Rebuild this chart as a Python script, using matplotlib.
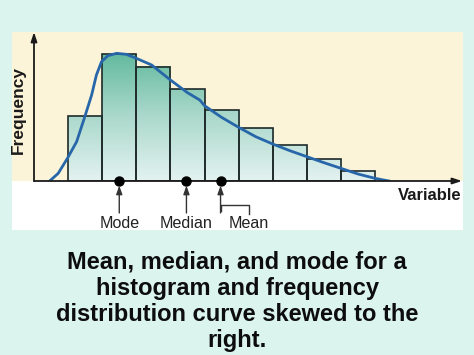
import numpy as np
import matplotlib
matplotlib.use("Agg")
import matplotlib.pyplot as plt
from matplotlib.patches import Rectangle
from matplotlib.colors import LinearSegmentedColormap, Normalize

plt.rcParams['font.family'] = ['Liberation Sans', 'DejaVu Sans']

# ---- data ----
bin_lefts = [0, 1, 2, 3, 4, 5, 6, 7, 8]
bar_heights = [19.5, 38.1, 34.3, 27.5, 21.3, 15.8, 10.7, 6.6, 2.9]

curve_x = [-0.54, -0.29, -0.02, 0.25, 0.49, 0.69, 0.83, 0.98, 1.17, 1.42, 1.71,
           2.0, 2.45, 3.0, 3.5, 3.86, 4.0, 4.5, 5.0, 5.5, 6.0, 6.5, 7.0, 7.5,
           8.0, 8.5, 9.0, 9.3, 9.42]
curve_y = [0.0, 2.3, 6.8, 11.8, 19.3, 25.8, 31.8, 35.8, 37.6, 38.3, 38.0,
           36.8, 34.8, 30.3, 26.5, 24.3, 22.6, 19.1, 16.1, 13.3, 11.1, 9.1, 7.3, 5.5,
           3.8, 2.1, 0.8, 0.2, 0.0]

stat_names = ["Mode", "Median", "Mean"]
stat_x = [1.5, 3.47, 4.47]

x_label = "Variable"
y_label = "Frequency"
title_lines = ["Mean, median, and mode for a",
               "histogram and frequency",
               "distribution curve skewed to the",
               "right."]

# ---- figure ----
W, H = 474, 355
fig = plt.figure(figsize=(W / 100, H / 100), dpi=100)
fig.patch.set_facecolor('#dbf4ee')

def px(x, y):
    return (x / W, (H - y) / H)

# panel backgrounds
fig.patches.append(Rectangle(px(12, 181), (463 - 12) / W, (181 - 32) / H,
                             transform=fig.transFigure, facecolor='#fbf4d8',
                             edgecolor='none', zorder=-2))
fig.patches.append(Rectangle(px(12, 230), (463 - 12) / W, (230 - 181) / H,
                             transform=fig.transFigure, facecolor='white',
                             edgecolor='none', zorder=-2))

ax = fig.add_axes([34 / W, (H - 181) / H, (462 - 34) / W, (181 - 32) / H])
ax.set_zorder(1)
ax.set_facecolor('none')
for s in ax.spines.values():
    s.set_visible(False)
ax.set_xticks([])
ax.set_yticks([])

# gradient bars
cmap = LinearSegmentedColormap.from_list('tealgrad', ['#e3f2f0', '#a9d8ca', '#5db79a'])
norm = Normalize(vmin=0, vmax=40)
for left, h in zip(bin_lefts, bar_heights):
    grad = np.linspace(0, h, 200).reshape(-1, 1)
    ax.imshow(grad, extent=(left, left + 1, 0, h), origin='lower', cmap=cmap,
              norm=norm, aspect='auto', zorder=1, interpolation='bilinear')
centers = [e + 0.5 for e in bin_lefts]
ax.bar(centers, bar_heights, width=1.0, facecolor='none', edgecolor='#1e2a29',
       linewidth=1.2, zorder=2)
ax.set_xlim(-1, 11.55)
ax.set_ylim(0, 44.7)

# curve
ax.plot(curve_x, curve_y, color='#2766a9', lw=2.0, zorder=3,
        solid_capstyle='round', solid_joinstyle='round')

# axes arrows
axis_col = '#1a1a1a'
ax.annotate('', xy=(1.0, 0), xytext=(0, 0), xycoords='axes fraction',
            arrowprops=dict(arrowstyle='-|>,head_length=0.55,head_width=0.18',
                            color=axis_col, lw=1.3, shrinkA=0, shrinkB=0),
            zorder=4, annotation_clip=False)
ax.annotate('', xy=(0, 1.0), xytext=(0, 0), xycoords='axes fraction',
            arrowprops=dict(arrowstyle='-|>,head_length=0.55,head_width=0.18',
                            color=axis_col, lw=1.3, shrinkA=0, shrinkB=0),
            zorder=4, annotation_clip=False)

# stat markers
ax.plot(stat_x, [0] * len(stat_x), 'o', color='black', ms=6.5, zorder=5, clip_on=False)
arrow_col = '#333333'
lab_col = '#222222'
for name, sx in zip(stat_names, stat_x):
    ax.annotate('', xy=(sx, -1.4), xytext=(sx, -9.6), xycoords='data',
                arrowprops=dict(arrowstyle='-|>,head_length=0.5,head_width=0.18',
                                color=arrow_col, lw=1.0, shrinkA=0, shrinkB=0),
                annotation_clip=False)
    if name == "Mean":
        xr = sx + 0.84
        ax.plot([sx, sx, xr, xr], [-9.0, -7.2, -7.2, -9.9], color=arrow_col,
                lw=1.0, clip_on=False)
        ax.text(xr, -12.9, name, ha='center', va='center', fontsize=11.6,
                color=lab_col, clip_on=False)
    else:
        ax.text(sx, -12.9, name, ha='center', va='center', fontsize=11.6,
                color=lab_col, clip_on=False)

# axis labels
fig.text(*px(462, 195), x_label, ha='right', va='center', fontsize=12,
         fontweight='bold', color='#1a1a1a')
fig.text(*px(18, 110), y_label, ha='center', va='center', rotation=90,
         fontsize=12.5, fontweight='bold', color='#1a1a1a')

# title
baselines = [268, 294.5, 321, 347.5]
for line, b in zip(title_lines, baselines):
    fig.text(*px(237, b), line, ha='center', va='baseline', fontsize=17,
             fontweight='bold', color='#0d0d0d')

fig.savefig('out.png', dpi=100, facecolor=fig.get_facecolor())
